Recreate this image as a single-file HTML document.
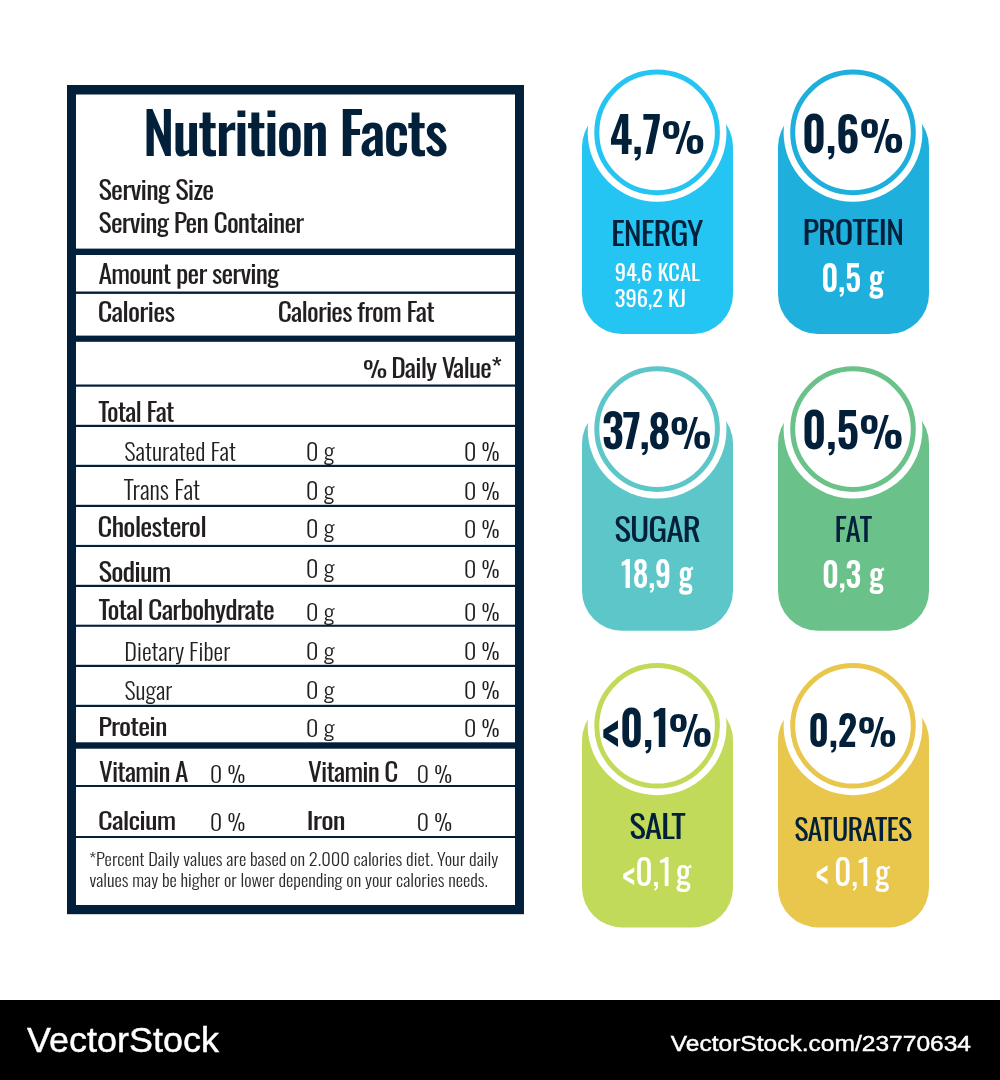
<!DOCTYPE html>
<html><head><meta charset="utf-8"><title>Nutrition Facts</title>
<style>html,body{margin:0;padding:0;background:#fff;width:1000px;height:1080px;overflow:hidden}svg{display:block;will-change:transform}.o{font-size-adjust:cap-height 0.81}</style>
</head><body>
<svg width="1000" height="1080" viewBox="0 0 1000 1080">
<rect width="1000" height="1080" fill="#fff"/>
<rect x="67" y="85" width="457" height="829.2" fill="#03203a"/>
<rect x="76" y="94.5" width="439" height="810.5" fill="#fff"/>
<rect x="76" y="291.5" width="439" height="2.4" fill="#03203a"/>
<rect x="76" y="384.5" width="439" height="2.2" fill="#03203a"/>
<rect x="76" y="424.8" width="439" height="2.2" fill="#03203a"/>
<rect x="76" y="464.8" width="439" height="2.2" fill="#03203a"/>
<rect x="76" y="504.8" width="439" height="2.2" fill="#03203a"/>
<rect x="76" y="544.9" width="439" height="2.1" fill="#03203a"/>
<rect x="76" y="584.8" width="439" height="2.2" fill="#03203a"/>
<rect x="76" y="624.7" width="439" height="2.1" fill="#03203a"/>
<rect x="76" y="664.8" width="439" height="2.2" fill="#03203a"/>
<rect x="76" y="704.8" width="439" height="2.2" fill="#03203a"/>
<rect x="76" y="785" width="439" height="2" fill="#03203a"/>
<rect x="76" y="836" width="439" height="2" fill="#03203a"/>
<rect x="76" y="248.6" width="439" height="6.4" fill="#03203a"/>
<rect x="76" y="335.6" width="439" height="6.2" fill="#03203a"/>
<rect x="76" y="742.3" width="439" height="6.4" fill="#03203a"/>
<path d="M582,146.9 A40,40 0 0 1 622,106.9 L693,106.9 A40,40 0 0 1 733,146.9 L733,294.0 A40,40 0 0 1 693,334.0 L622,334.0 A40,40 0 0 1 582,294.0 Z" fill="#24c4f3"/>
<circle cx="657.1" cy="132.4" r="69.4" fill="#fff"/>
<circle cx="657.1" cy="132.4" r="60.3" fill="#fff" stroke="#24c4f3" stroke-width="5"/>
<path d="M778,146.9 A40,40 0 0 1 818,106.9 L889,106.9 A40,40 0 0 1 929,146.9 L929,294.0 A40,40 0 0 1 889,334.0 L818,334.0 A40,40 0 0 1 778,294.0 Z" fill="#1eafdd"/>
<circle cx="853.0" cy="132.4" r="69.4" fill="#fff"/>
<circle cx="853.0" cy="132.4" r="60.3" fill="#fff" stroke="#1eafdd" stroke-width="5"/>
<path d="M582,443.6 A40,40 0 0 1 622,403.6 L693,403.6 A40,40 0 0 1 733,443.6 L733,590.7 A40,40 0 0 1 693,630.7 L622,630.7 A40,40 0 0 1 582,590.7 Z" fill="#5dc6c9"/>
<circle cx="657.1" cy="429.1" r="69.4" fill="#fff"/>
<circle cx="657.1" cy="429.1" r="60.3" fill="#fff" stroke="#5dc6c9" stroke-width="5"/>
<path d="M778,443.6 A40,40 0 0 1 818,403.6 L889,403.6 A40,40 0 0 1 929,443.6 L929,590.7 A40,40 0 0 1 889,630.7 L818,630.7 A40,40 0 0 1 778,590.7 Z" fill="#6ac28a"/>
<circle cx="853.0" cy="429.1" r="69.4" fill="#fff"/>
<circle cx="853.0" cy="429.1" r="60.3" fill="#fff" stroke="#6ac28a" stroke-width="5"/>
<path d="M582,740.3 A40,40 0 0 1 622,700.3 L693,700.3 A40,40 0 0 1 733,740.3 L733,887.4 A40,40 0 0 1 693,927.4 L622,927.4 A40,40 0 0 1 582,887.4 Z" fill="#c2da59"/>
<circle cx="657.1" cy="725.8" r="69.4" fill="#fff"/>
<circle cx="657.1" cy="725.8" r="60.3" fill="#fff" stroke="#c2da59" stroke-width="5"/>
<path d="M778,740.3 A40,40 0 0 1 818,700.3 L889,700.3 A40,40 0 0 1 929,740.3 L929,887.4 A40,40 0 0 1 889,927.4 L818,927.4 A40,40 0 0 1 778,887.4 Z" fill="#e9c74c"/>
<circle cx="853.0" cy="725.8" r="69.4" fill="#fff"/>
<circle cx="853.0" cy="725.8" r="60.3" fill="#fff" stroke="#e9c74c" stroke-width="5"/>
<rect x="0" y="1000" width="1000" height="80" fill="#000"/>
<text class="o" style="letter-spacing:-0.03em" x="143.03" y="156.00" font-family="'Oswald', 'Liberation Sans', sans-serif" font-weight="460" font-size="58.15" fill="#03203a" textLength="303.04" lengthAdjust="spacingAndGlyphs">Nutrition Facts</text>
<text class="o" style="letter-spacing:-0.03em" x="98.56" y="199.60" font-family="'Oswald', 'Liberation Sans', sans-serif" font-weight="450" font-size="25.24" fill="#231f20" textLength="114.72" lengthAdjust="spacingAndGlyphs">Serving Size</text>
<text class="o" style="letter-spacing:-0.03em" x="98.59" y="233.30" font-family="'Oswald', 'Liberation Sans', sans-serif" font-weight="450" font-size="25.61" fill="#231f20" textLength="204.84" lengthAdjust="spacingAndGlyphs">Serving Pen Container</text>
<text class="o" style="letter-spacing:-0.03em" x="98.45" y="283.60" font-family="'Oswald', 'Liberation Sans', sans-serif" font-weight="450" font-size="25.73" fill="#231f20" textLength="180.05" lengthAdjust="spacingAndGlyphs">Amount per serving</text>
<text class="o" style="letter-spacing:-0.03em" x="97.78" y="322.40" font-family="'Oswald', 'Liberation Sans', sans-serif" font-weight="450" font-size="25.73" fill="#231f20" textLength="76.43" lengthAdjust="spacingAndGlyphs">Calories</text>
<text class="o" style="letter-spacing:-0.03em" x="277.72" y="322.40" font-family="'Oswald', 'Liberation Sans', sans-serif" font-weight="450" font-size="25.73" fill="#231f20" textLength="156.15" lengthAdjust="spacingAndGlyphs">Calories from Fat</text>
<text class="o" font-family="'Oswald', 'Liberation Sans', sans-serif" font-weight="450" fill="#231f20"><tspan x="362.91" y="377.60" font-size="21.71" textLength="24.20" lengthAdjust="spacingAndGlyphs">%</tspan> <tspan style="letter-spacing:-0.03em" x="391.15" y="377.60" font-size="25.61" textLength="110.10" lengthAdjust="spacingAndGlyphs">Daily Value*</tspan></text>
<text class="o" style="letter-spacing:-0.03em" x="98.26" y="421.60" font-family="'Oswald', 'Liberation Sans', sans-serif" font-weight="450" font-size="26.10" fill="#231f20" textLength="75.29" lengthAdjust="spacingAndGlyphs">Total Fat</text>
<text class="o" x="124.21" y="460.80" font-family="'Oswald', 'Liberation Sans', sans-serif" font-weight="270" font-size="23.66" fill="#231f20" textLength="111.78" lengthAdjust="spacingAndGlyphs">Saturated Fat</text>
<text class="o" x="123.60" y="500.00" font-family="'Oswald', 'Liberation Sans', sans-serif" font-weight="270" font-size="24.69" fill="#231f20" textLength="76.49" lengthAdjust="spacingAndGlyphs">Trans Fat</text>
<text class="o" style="letter-spacing:-0.03em" x="97.57" y="537.10" font-family="'Oswald', 'Liberation Sans', sans-serif" font-weight="450" font-size="25.73" fill="#231f20" textLength="108.29" lengthAdjust="spacingAndGlyphs">Cholesterol</text>
<text class="o" style="letter-spacing:-0.03em" x="98.45" y="582.30" font-family="'Oswald', 'Liberation Sans', sans-serif" font-weight="450" font-size="25.61" fill="#231f20" textLength="72.10" lengthAdjust="spacingAndGlyphs">Sodium</text>
<text class="o" style="letter-spacing:-0.03em" x="98.44" y="620.00" font-family="'Oswald', 'Liberation Sans', sans-serif" font-weight="450" font-size="25.00" fill="#231f20" textLength="175.58" lengthAdjust="spacingAndGlyphs">Total Carbohydrate</text>
<text class="o" x="124.30" y="660.50" font-family="'Oswald', 'Liberation Sans', sans-serif" font-weight="270" font-size="24.44" fill="#231f20" textLength="106.11" lengthAdjust="spacingAndGlyphs">Dietary Fiber</text>
<text class="o" x="124.54" y="699.50" font-family="'Oswald', 'Liberation Sans', sans-serif" font-weight="270" font-size="23.29" fill="#231f20" textLength="47.92" lengthAdjust="spacingAndGlyphs">Sugar</text>
<text class="o" style="letter-spacing:-0.03em" x="98.29" y="736.40" font-family="'Oswald', 'Liberation Sans', sans-serif" font-weight="450" font-size="24.15" fill="#231f20" textLength="68.36" lengthAdjust="spacingAndGlyphs">Protein</text>
<text class="o" x="305.86" y="460.80" font-family="'Oswald', 'Liberation Sans', sans-serif" font-weight="270" font-size="23.17" fill="#231f20" textLength="28.72" lengthAdjust="spacingAndGlyphs">0 g</text>
<text class="o" x="463.67" y="460.80" font-family="'Oswald', 'Liberation Sans', sans-serif" font-weight="270" font-size="22.89" fill="#231f20" textLength="36.00" lengthAdjust="spacingAndGlyphs">0 %</text>
<text class="o" x="305.86" y="499.70" font-family="'Oswald', 'Liberation Sans', sans-serif" font-weight="270" font-size="22.80" fill="#231f20" textLength="28.72" lengthAdjust="spacingAndGlyphs">0 g</text>
<text class="o" x="463.67" y="499.70" font-family="'Oswald', 'Liberation Sans', sans-serif" font-weight="270" font-size="22.53" fill="#231f20" textLength="36.00" lengthAdjust="spacingAndGlyphs">0 %</text>
<text class="o" x="305.86" y="538.20" font-family="'Oswald', 'Liberation Sans', sans-serif" font-weight="270" font-size="22.80" fill="#231f20" textLength="28.72" lengthAdjust="spacingAndGlyphs">0 g</text>
<text class="o" x="463.67" y="538.20" font-family="'Oswald', 'Liberation Sans', sans-serif" font-weight="270" font-size="22.53" fill="#231f20" textLength="36.00" lengthAdjust="spacingAndGlyphs">0 %</text>
<text class="o" x="305.86" y="577.90" font-family="'Oswald', 'Liberation Sans', sans-serif" font-weight="270" font-size="22.80" fill="#231f20" textLength="28.72" lengthAdjust="spacingAndGlyphs">0 g</text>
<text class="o" x="463.67" y="577.90" font-family="'Oswald', 'Liberation Sans', sans-serif" font-weight="270" font-size="22.53" fill="#231f20" textLength="36.00" lengthAdjust="spacingAndGlyphs">0 %</text>
<text class="o" x="305.86" y="621.20" font-family="'Oswald', 'Liberation Sans', sans-serif" font-weight="270" font-size="22.44" fill="#231f20" textLength="28.72" lengthAdjust="spacingAndGlyphs">0 g</text>
<text class="o" x="463.67" y="621.20" font-family="'Oswald', 'Liberation Sans', sans-serif" font-weight="270" font-size="22.17" fill="#231f20" textLength="36.00" lengthAdjust="spacingAndGlyphs">0 %</text>
<text class="o" x="305.86" y="660.40" font-family="'Oswald', 'Liberation Sans', sans-serif" font-weight="270" font-size="21.95" fill="#231f20" textLength="28.72" lengthAdjust="spacingAndGlyphs">0 g</text>
<text class="o" x="463.67" y="660.40" font-family="'Oswald', 'Liberation Sans', sans-serif" font-weight="270" font-size="21.69" fill="#231f20" textLength="36.00" lengthAdjust="spacingAndGlyphs">0 %</text>
<text class="o" x="305.86" y="699.40" font-family="'Oswald', 'Liberation Sans', sans-serif" font-weight="270" font-size="22.07" fill="#231f20" textLength="28.72" lengthAdjust="spacingAndGlyphs">0 g</text>
<text class="o" x="463.67" y="699.40" font-family="'Oswald', 'Liberation Sans', sans-serif" font-weight="270" font-size="21.81" fill="#231f20" textLength="36.00" lengthAdjust="spacingAndGlyphs">0 %</text>
<text class="o" x="305.86" y="737.00" font-family="'Oswald', 'Liberation Sans', sans-serif" font-weight="270" font-size="22.32" fill="#231f20" textLength="28.72" lengthAdjust="spacingAndGlyphs">0 g</text>
<text class="o" x="463.67" y="737.00" font-family="'Oswald', 'Liberation Sans', sans-serif" font-weight="270" font-size="22.05" fill="#231f20" textLength="36.00" lengthAdjust="spacingAndGlyphs">0 %</text>
<text class="o" style="letter-spacing:-0.03em" x="98.95" y="782.30" font-family="'Oswald', 'Liberation Sans', sans-serif" font-weight="450" font-size="25.00" fill="#231f20" textLength="88.67" lengthAdjust="spacingAndGlyphs">Vitamin A</text>
<text class="o" x="209.89" y="783.30" font-family="'Oswald', 'Liberation Sans', sans-serif" font-weight="270" font-size="22.29" fill="#231f20" textLength="35.46" lengthAdjust="spacingAndGlyphs">0 %</text>
<text class="o" style="letter-spacing:-0.03em" x="307.95" y="782.30" font-family="'Oswald', 'Liberation Sans', sans-serif" font-weight="450" font-size="25.00" fill="#231f20" textLength="89.71" lengthAdjust="spacingAndGlyphs">Vitamin C</text>
<text class="o" x="416.49" y="783.30" font-family="'Oswald', 'Liberation Sans', sans-serif" font-weight="270" font-size="22.29" fill="#231f20" textLength="35.57" lengthAdjust="spacingAndGlyphs">0 %</text>
<text class="o" style="letter-spacing:-0.03em" x="98.07" y="829.80" font-family="'Oswald', 'Liberation Sans', sans-serif" font-weight="450" font-size="24.27" fill="#231f20" textLength="77.19" lengthAdjust="spacingAndGlyphs">Calcium</text>
<text class="o" x="209.89" y="830.80" font-family="'Oswald', 'Liberation Sans', sans-serif" font-weight="270" font-size="21.81" fill="#231f20" textLength="35.46" lengthAdjust="spacingAndGlyphs">0 %</text>
<text class="o" style="letter-spacing:-0.03em" x="306.46" y="829.80" font-family="'Oswald', 'Liberation Sans', sans-serif" font-weight="450" font-size="24.27" fill="#231f20" textLength="38.23" lengthAdjust="spacingAndGlyphs">Iron</text>
<text class="o" x="416.49" y="830.80" font-family="'Oswald', 'Liberation Sans', sans-serif" font-weight="270" font-size="21.81" fill="#231f20" textLength="35.57" lengthAdjust="spacingAndGlyphs">0 %</text>
<text class="o" x="89.16" y="866.00" font-family="'Oswald', 'Liberation Sans', sans-serif" font-weight="300" font-size="17.07" fill="#2d2a2b" textLength="409.16" lengthAdjust="spacingAndGlyphs">*Percent Daily values are based on 2.000 calories diet. Your daily</text>
<text class="o" x="89.53" y="887.30" font-family="'Oswald', 'Liberation Sans', sans-serif" font-weight="300" font-size="17.65" fill="#2d2a2b" textLength="398.28" lengthAdjust="spacingAndGlyphs">values may be higher or lower depending on your calories needs.</text>
<text class="o" font-family="'Oswald', 'Liberation Sans', sans-serif" font-weight="555" fill="#03203a"><tspan x="609.67" y="153.50" font-size="48.77" textLength="51.72" lengthAdjust="spacingAndGlyphs">4,7</tspan><tspan x="661.10" y="153.50" font-size="41.27" textLength="44.29" lengthAdjust="spacingAndGlyphs">%</tspan></text>
<text class="o" style="letter-spacing:-0.03em" x="610.95" y="245.80" font-family="'Oswald', 'Liberation Sans', sans-serif" font-weight="450" font-size="32.68" fill="#03203a" textLength="91.43" lengthAdjust="spacingAndGlyphs">ENERGY</text>
<text class="o" x="614.70" y="281.40" font-family="'Oswald', 'Liberation Sans', sans-serif" font-weight="420" font-size="21.95" fill="#ffffff" textLength="85.24" lengthAdjust="spacingAndGlyphs">94,6 KCAL</text>
<text class="o" x="614.70" y="306.60" font-family="'Oswald', 'Liberation Sans', sans-serif" font-weight="420" font-size="21.95" fill="#ffffff" textLength="71.29" lengthAdjust="spacingAndGlyphs">396,2 KJ</text>
<text class="o" font-family="'Oswald', 'Liberation Sans', sans-serif" font-weight="555" fill="#03203a"><tspan x="801.94" y="153.40" font-size="48.19" textLength="57.65" lengthAdjust="spacingAndGlyphs">0,6</tspan><tspan x="859.26" y="153.40" font-size="41.79" textLength="44.86" lengthAdjust="spacingAndGlyphs">%</tspan></text>
<text class="o" style="letter-spacing:-0.03em" x="802.53" y="245.40" font-family="'Oswald', 'Liberation Sans', sans-serif" font-weight="450" font-size="31.71" fill="#03203a" textLength="100.58" lengthAdjust="spacingAndGlyphs">PROTEIN</text>
<text class="o" x="821.28" y="292.20" font-family="'Oswald', 'Liberation Sans', sans-serif" font-weight="470" font-size="34.82" fill="#ffffff" textLength="62.54" lengthAdjust="spacingAndGlyphs">0,5 g</text>
<text class="o" font-family="'Oswald', 'Liberation Sans', sans-serif" font-weight="555" fill="#03203a"><tspan style="letter-spacing:-0.03em" x="602.08" y="449.00" font-size="45.30" textLength="67.09" lengthAdjust="spacingAndGlyphs">37,8</tspan><tspan x="669.84" y="449.00" font-size="39.29" textLength="42.16" lengthAdjust="spacingAndGlyphs">%</tspan></text>
<text class="o" style="letter-spacing:-0.03em" x="614.18" y="542.00" font-family="'Oswald', 'Liberation Sans', sans-serif" font-weight="450" font-size="32.68" fill="#03203a" textLength="85.85" lengthAdjust="spacingAndGlyphs">SUGAR</text>
<text class="o" x="621.08" y="588.40" font-family="'Oswald', 'Liberation Sans', sans-serif" font-weight="470" font-size="34.94" fill="#ffffff" textLength="71.85" lengthAdjust="spacingAndGlyphs">18,9 g</text>
<text class="o" font-family="'Oswald', 'Liberation Sans', sans-serif" font-weight="555" fill="#03203a"><tspan x="801.91" y="449.20" font-size="47.95" textLength="57.12" lengthAdjust="spacingAndGlyphs">0,5</tspan><tspan x="859.08" y="449.20" font-size="41.59" textLength="44.63" lengthAdjust="spacingAndGlyphs">%</tspan></text>
<text class="o" x="834.54" y="542.00" font-family="'Oswald', 'Liberation Sans', sans-serif" font-weight="450" font-size="32.68" fill="#03203a" textLength="37.83" lengthAdjust="spacingAndGlyphs">FAT</text>
<text class="o" x="821.90" y="588.40" font-family="'Oswald', 'Liberation Sans', sans-serif" font-weight="470" font-size="34.70" fill="#ffffff" textLength="62.13" lengthAdjust="spacingAndGlyphs">0,3 g</text>
<text class="o" font-family="'Oswald', 'Liberation Sans', sans-serif" font-weight="555" fill="#03203a"><tspan x="601.00" y="758.53" font-size="60.52" textLength="18.87" lengthAdjust="spacingAndGlyphs">&lt;</tspan><tspan x="620.04" y="746.80" font-size="47.71" textLength="49.16" lengthAdjust="spacingAndGlyphs">0,1</tspan><tspan x="668.20" y="746.80" font-size="40.99" textLength="44.30" lengthAdjust="spacingAndGlyphs">%</tspan></text>
<text class="o" style="letter-spacing:-0.03em" x="629.19" y="839.40" font-family="'Oswald', 'Liberation Sans', sans-serif" font-weight="450" font-size="32.68" fill="#03203a" textLength="55.45" lengthAdjust="spacingAndGlyphs">SALT</text>
<text class="o" font-family="'Oswald', 'Liberation Sans', sans-serif" font-weight="430" fill="#ffffff"><tspan x="622.26" y="893.86" font-size="43.00" textLength="14.13" lengthAdjust="spacingAndGlyphs">&lt;</tspan><tspan x="635.17" y="885.60" font-size="34.88" textLength="36.69" lengthAdjust="spacingAndGlyphs">0,1</tspan><tspan x="675.69" y="885.60" font-size="35.25" textLength="15.59" lengthAdjust="spacingAndGlyphs">g</tspan></text>
<text class="o" font-family="'Oswald', 'Liberation Sans', sans-serif" font-weight="555" fill="#03203a"><tspan x="808.31" y="746.80" font-size="42.41" textLength="48.79" lengthAdjust="spacingAndGlyphs">0,2</tspan><tspan x="857.42" y="746.80" font-size="36.78" textLength="39.47" lengthAdjust="spacingAndGlyphs">%</tspan></text>
<text class="o" style="letter-spacing:-0.03em" x="794.29" y="840.70" font-family="'Oswald', 'Liberation Sans', sans-serif" font-weight="450" font-size="28.17" fill="#03203a" textLength="117.01" lengthAdjust="spacingAndGlyphs">SATURATES</text>
<text class="o" font-family="'Oswald', 'Liberation Sans', sans-serif" font-weight="430" fill="#ffffff"><tspan x="815.69" y="894.30" font-size="45.00" textLength="13.86" lengthAdjust="spacingAndGlyphs">&lt;</tspan> <tspan x="833.97" y="885.60" font-size="35.12" textLength="36.69" lengthAdjust="spacingAndGlyphs">0,1</tspan><tspan x="874.93" y="885.60" font-size="34.58" textLength="14.77" lengthAdjust="spacingAndGlyphs">g</tspan></text>
<text x="27.14" y="1051.50" font-family="'Liberation Sans', Arial, sans-serif" font-weight="400" font-size="34.79" fill="#ffffff" stroke="#fff" stroke-width="0.45" textLength="191.77" lengthAdjust="spacingAndGlyphs">VectorStock</text>
<text x="670.75" y="1051.00" font-family="'Liberation Sans', Arial, sans-serif" font-weight="400" font-size="22.60" fill="#ffffff" stroke="#fff" stroke-width="0.45" textLength="300.28" lengthAdjust="spacingAndGlyphs">VectorStock.com/23770634</text>
</svg>
</body></html>
